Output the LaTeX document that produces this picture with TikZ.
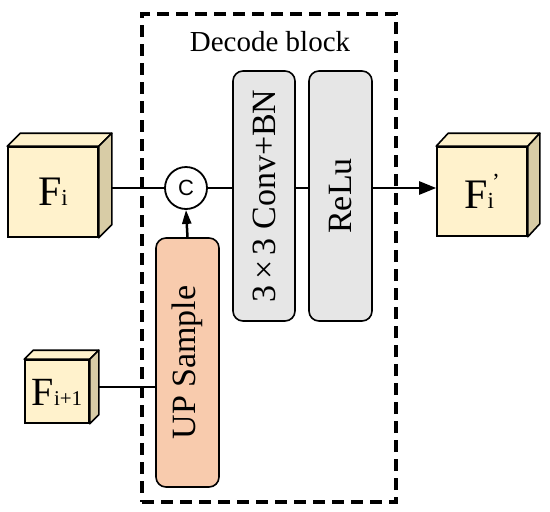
\documentclass[tikz,border=0pt]{standalone}
\usepackage{fontspec}
\setmainfont{Liberation Serif}
\newfontfamily\circfont{Liberation Sans}
\usetikzlibrary{arrows.meta,calc}
\definecolor{cubefront}{HTML}{FFF2CC}
\definecolor{cubeside}{HTML}{D8CCA6}
\definecolor{upfill}{HTML}{F8CBAD}
\definecolor{grayfill}{HTML}{E6E6E6}
\begin{document}
\begin{tikzpicture}[x=1pt,y=-1pt,
  conn/.style={line width=2.5pt},
  facebox/.style={draw, line width=1.6pt, fill=cubefront, inner sep=0pt},
  sidefill/.style={draw, line width=1.6pt, fill=cubeside, line join=round},
  topfill/.style={draw, line width=1.6pt, fill=cubefront, line join=round},
  opbox/.style={draw, line width=1.6pt, rounded corners=10pt, inner sep=0pt, rotate=90,
    font=\fontsize{34}{34}\selectfont},
  frame/.style={draw, line width=3.2pt, dash pattern=on 12pt off 7pt, inner sep=0pt},
  catnode/.style={circle, draw, line width=1.8pt, fill=white, inner sep=0pt, minimum size=42pt,
    font=\circfont\fontsize{22}{22}\selectfont}
]
\useasboundingbox (0,0) rectangle (550,512);

% decode block frame
\node[frame, minimum width=254pt, minimum height=488pt] (frm) at (269,258) {};
\node[font=\fontsize{29}{29}\selectfont] (title) at (270,42) {Decode block};

% cube Fi
\node[facebox, minimum width=90pt, minimum height=90pt] (fi) at (53,192) {};
\draw[topfill] (fi.north west) -- ++(13,-13) -- ($(fi.north east)+(13,-13)$) -- (fi.north east) -- cycle;
\draw[sidefill] (fi.north east) -- ++(13,-13) -- ($(fi.south east)+(13,-13)$) -- (fi.south east) -- cycle;
\node at (fi.center) {\fontsize{42}{42}\selectfont F\fontsize{23}{23}\selectfont i};
\coordinate (fiout) at ($(fi.east)+(13,-4)$);

% cube Fi+1
\node[facebox, minimum width=64pt, minimum height=63pt] (fn) at (57,391.5) {};
\draw[topfill] (fn.north west) -- ++(9,-9) -- ($(fn.north east)+(9,-9)$) -- (fn.north east) -- cycle;
\draw[sidefill] (fn.north east) -- ++(9,-9) -- ($(fn.south east)+(9,-9)$) -- (fn.south east) -- cycle;
\node at ($(fn.center)+(0,1)$) {\fontsize{40}{40}\selectfont F\fontsize{21}{21}\selectfont i+1};
\coordinate (fnout) at ($(fn.east)+(9,-4.5)$);

% cube Fi'
\node[facebox, minimum width=90pt, minimum height=89pt] (fo) at (482,191.5) {};
\draw[topfill] (fo.north west) -- ++(12,-13) -- ($(fo.north east)+(12,-13)$) -- (fo.north east) -- cycle;
\draw[sidefill] (fo.north east) -- ++(12,-13) -- ($(fo.south east)+(12,-13)$) -- (fo.south east) -- cycle;
\node at (fo.center) {\fontsize{42}{42}\selectfont F\fontsize{23}{23}\selectfont i\kern-2pt\raisebox{19pt}{’}};
\coordinate (foin) at (fo.west |- 0,188);

% operation boxes
\node[opbox, fill=grayfill, minimum width=250pt, minimum height=62pt] (conv) at (264,196) {3\,×\,3 Conv+BN};
\node[opbox, fill=grayfill, minimum width=250pt, minimum height=63pt] (relu) at (340.5,196) {ReLu};
\node[opbox, fill=upfill, minimum width=249pt, minimum height=63pt] (up) at (187.5,362.5) {UP Sample};

% concat
\node[catnode] (cat) at (186,188) {C};

% connectors
\draw[conn] (fiout) -- (cat.west);
\draw[conn] (cat.east) -- (cat.east -| conv.north);
\draw[conn] (conv.south |- cat.east) -- (relu.north |- cat.east);
\draw[conn, -{Triangle[length=17pt,width=13pt]}] (relu.south |- cat.east) -- (foin);
\draw[conn, -{Triangle[length=14pt,width=9pt]}] (up.east) -- (cat.south);
\draw[conn] (fnout) -- (fnout -| up.north);
\end{tikzpicture}
\end{document}
